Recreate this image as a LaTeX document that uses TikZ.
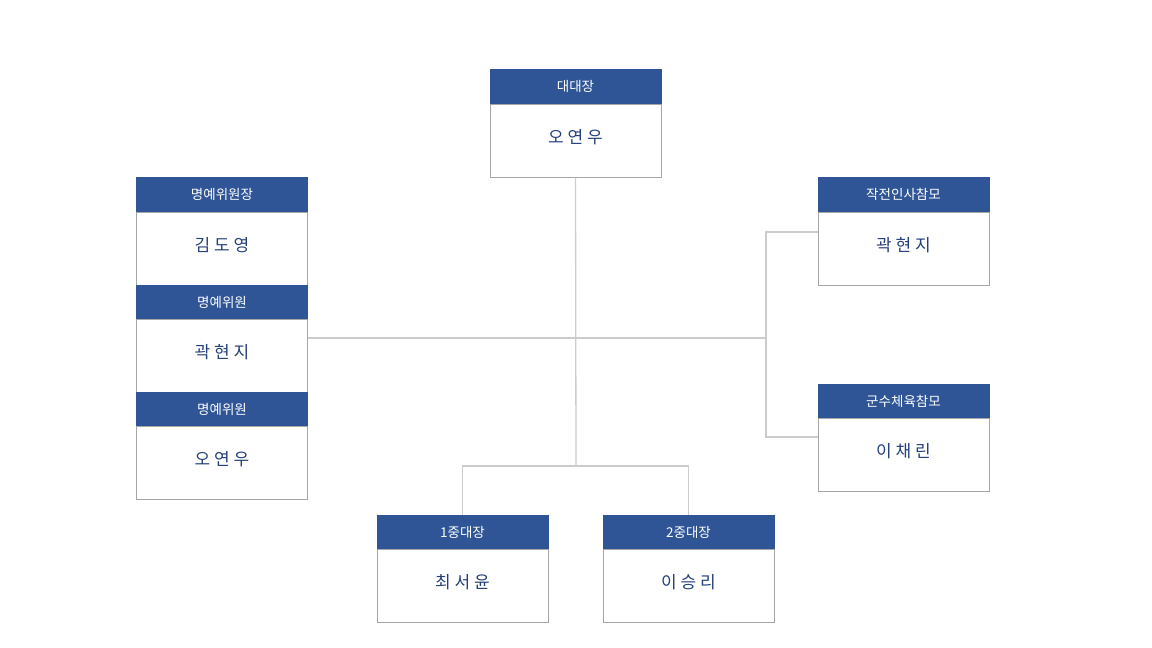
\documentclass[tikz,border=0pt]{standalone}
\usepackage{fontspec}
\setmainfont{Noto Sans CJK KR}
\definecolor{headblue}{HTML}{2F5597}
\definecolor{nameblue}{HTML}{24407A}
\definecolor{boxgray}{HTML}{A6A6A6}
\definecolor{linegray}{HTML}{CCCCCC}
\tikzset{
  head/.style={draw=headblue, fill=headblue, text=white, minimum width=171pt,
    minimum height=34pt, inner sep=0pt, font=\fontsize{13.5}{15}\selectfont},
  body/.style={draw=boxgray, fill=white, text=nameblue, minimum width=171pt,
    minimum height=73pt, inner sep=0pt, anchor=north, line width=1pt,
    text height=13pt, text depth=8pt, font=\fontsize{17}{20}\selectfont},
  link/.style={draw=linegray, line width=1.3pt}
}
\begin{document}
\begin{tikzpicture}[x=1pt, y=-1pt]
  \useasboundingbox (0,0) rectangle (1152,648);

  % connectors
  \coordinate (hub) at (576,338);
  \coordinate (split) at (576,466);
  \coordinate (rtop) at (766,232);
  \coordinate (rmid) at (766,338);
  \coordinate (rbot) at (766,437);

  % battalion commander
  \node[head] (chief-h) at (575.5,86.5) {대대장};
  \node[body] (chief) at (chief-h.south) {오 연 우};

  % honorary members
  \node[head] (hon1-h) at (222,194.5) {명예위원장};
  \node[body] (hon1) at (hon1-h.south) {김 도 영};
  \node[head] (hon2-h) at (222,302) {명예위원};
  \node[body] (hon2) at (hon2-h.south) {곽 현 지};
  \node[head] (hon3-h) at (222,409) {명예위원};
  \node[body] (hon3) at (hon3-h.south) {오 연 우};

  % staff
  \node[head] (ops-h) at (903.5,194.5) {작전인사참모};
  \node[body] (ops) at (ops-h.south) {곽 현 지};
  \node[head] (pe-h) at (903.5,401) {군수체육참모};
  \node[body] (pe) at (pe-h.south) {이 채 린};

  % companies
  \node[head] (co1-h) at (462.5,532) {1중대장};
  \node[body] (co1) at (co1-h.south) {최 서 윤};
  \node[head] (co2-h) at (688.5,532) {2중대장};
  \node[body] (co2) at (co2-h.south) {이 승 리};

  \draw[link] (chief.south) -- (split);
  \draw[link] (hon2.east |- hub) -- (hub) -- (rmid);
  \draw[link] (ops.west |- rtop) -- (rtop) -- (rbot) -- (pe.west |- rbot);
  \draw[link] (co1-h.north) -- (co1-h.north |- split) -- (co2-h.north |- split) -- (co2-h.north);
\end{tikzpicture}
\end{document}
